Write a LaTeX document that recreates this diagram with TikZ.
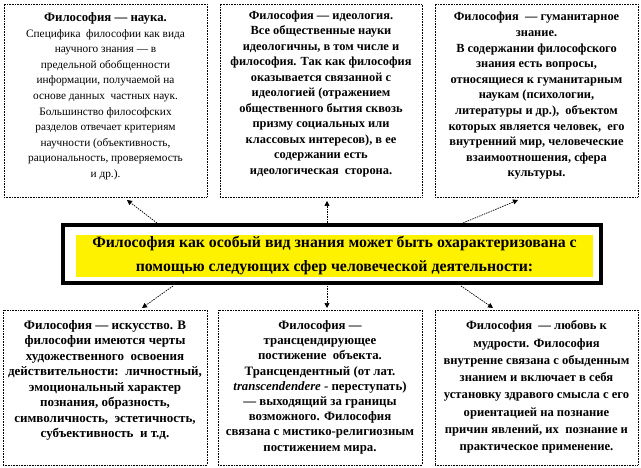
\documentclass[tikz,border=0pt]{standalone}
\usepackage{fontspec}
\setmainfont{Liberation Serif}
\usetikzlibrary{arrows.meta}
\begin{document}
\begin{tikzpicture}[x=1bp,y=-1bp,
  frame/.style={draw=black, line width=0.8bp, dash pattern=on 0.8bp off 0.8bp, fill=white, inner sep=0},
  txt/.style={align=center, inner sep=0, anchor=north, font=\fontsize{11.3bp}{15.6bp}\selectfont},
  conn/.style={line width=0.7bp, dash pattern=on 1.5bp off 1bp, -{Triangle[length=5bp,width=5bp]}},
]
\useasboundingbox (0,0) rectangle (641,468);
\fill[white] (0,0) rectangle (641,468);

% top boxes
\node[frame, minimum width=203bp, minimum height=193bp] (b1) at (105.5,100.5) {};
\node[frame, minimum width=202bp, minimum height=193bp] (b2) at (321,100.5) {};
\node[frame, minimum width=203bp, minimum height=193bp] (b3) at (536.5,100.5) {};
% bottom boxes
\node[frame, minimum width=204bp, minimum height=155bp] (b4) at (105,387.5) {};
\node[frame, minimum width=204bp, minimum height=155bp] (b5) at (320,387.5) {};
\node[frame, minimum width=203bp, minimum height=155bp] (b6) at (536.5,387.5) {};

% central box
\node[draw=black, line width=4bp, minimum width=538bp, minimum height=58bp, inner sep=0] (c) at (332,254) {};
\node[fill=yellow, minimum width=517bp, minimum height=42bp, inner sep=0] (cy) at (334.5,256) {};
\node[align=center, inner sep=0, font=\bfseries\fontsize{15.8bp}{24bp}\selectfont] (ct) at (334.5,255.5)
 {Философия как особый вид знания может быть охарактеризована с\\помощью следующих сфер человеческой деятельности:};

% texts
\node[txt] (t1) at (105.5,12.5) {{\bfseries\fontsize{12.8bp}{15.6bp}\selectfont Философия — наука.}\\Специфика\ \ философии как вида\\научного знания — в\\предельной обобщенности\\информации, получаемой на\\основе данных\ \ частных наук.\\Большинство философских\\разделов отвечает критериям\\научности (объективность,\\рациональность, проверяемость\\и др.).};
\node[txt, font=\bfseries\fontsize{12.4bp}{15.5bp}\selectfont] (t2) at (321,10.5) {Философия — идеология.\\Все общественные науки\\идеологичны, в том числе и\\философия. Так как философия\\оказывается связанной с\\идеологией (отражением\\общественного бытия сквозь\\призму социальных или\\классовых интересов), в ее\\содержании есть\\идеологическая\ \ сторона.};
\node[txt, font=\bfseries\fontsize{12.4bp}{15.6bp}\selectfont] (t3) at (536.5,12) {Философия\ \ — гуманитарное\\знание.\\В содержании философского\\знания есть вопросы,\\относящиеся к гуманитарным\\наукам (психологии,\\литературы и др.),\ \ объектом\\которых является человек,\ \ его\\внутренний мир, человеческие\\взаимоотношения, сфера\\культуры.};
\node[txt, font=\bfseries\fontsize{13bp}{15.5bp}\selectfont] (t4) at (105,320) {Философия — искусство. В\\философии имеются черты\\художественного\ \ освоения\\действительности:\ \ личностный,\\эмоциональный характер\\познания, образность,\\символичность,\ \ эстетичность,\\субъективность\ \ и т.д.};
\node[txt, font=\bfseries\fontsize{12.8bp}{15.2bp}\selectfont] (t5) at (320,320.5) {Философия —\\трансцендирующее\\постижение\ \ объекта.\\Трансцендентный (от лат.\\\textit{transcendendere} - переступать)\\— выходящий за границы\\возможного. Философия\\связана с мистико-религиозным\\постижением мира.};
\node[txt, font=\bfseries\fontsize{12.6bp}{17.3bp}\selectfont] (t6) at (536.5,320.5) {Философия\ \ — любовь к\\мудрости. Философия\\внутренне связана с обыденным\\знанием и включает в себя\\установку здравого смысла с его\\ориентацией на познание\\причин явлений, их\ \ познание и\\практическое применение.};

% connector ends
\coordinate (s1) at (157,223); \coordinate (e1) at (127,200);
\coordinate (s2) at (327,223); \coordinate (e2) at (327,201);
\coordinate (s3) at (463,223); \coordinate (e3) at (518,200);
\coordinate (s4) at (173,286); \coordinate (e4) at (142,308);
\coordinate (s5) at (327,286); \coordinate (e5) at (327,308);
\coordinate (s6) at (461,286); \coordinate (e6) at (493,308);
\draw[conn] (s1) -- (e1);
\draw[conn] (s2) -- (e2);
\draw[conn] (s3) -- (e3);
\draw[conn] (s4) -- (e4);
\draw[conn] (s5) -- (e5);
\draw[conn] (s6) -- (e6);
\end{tikzpicture}
\end{document}
